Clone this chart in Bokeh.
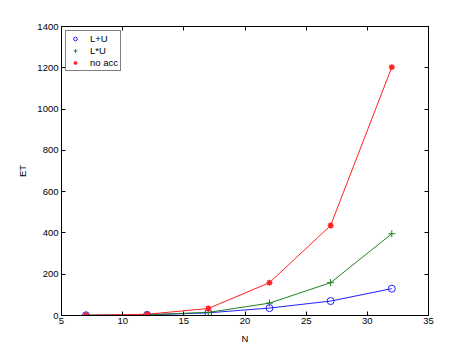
from bokeh.plotting import figure
from bokeh.models import LinearAxis, FixedTicker, Legend, LegendItem, Range1d
from bokeh.embed import file_html
from bokeh.resources import INLINE

N = [7, 12, 17, 22, 27, 32]
lu_plus = [1, 3, 13, 36, 70, 130]
lu_times = [1, 4, 15, 60, 159, 396]
no_acc = [1, 6, 34, 159, 436, 1203]
x_ticks = [5, 10, 15, 20, 25, 30, 35]
y_ticks = [0, 200, 400, 600, 800, 1000, 1200, 1400]

FONT = "Liberation Sans"

p = figure(width=474, height=355, output_backend="svg", toolbar_location=None,
           x_range=Range1d(5, 35), y_range=Range1d(0, 1400),
           min_border_left=61, min_border_top=26, min_border_right=46, min_border_bottom=40)
p.background_fill_color = "white"
p.border_fill_color = "white"
p.outline_line_color = "black"
p.outline_line_width = 1
p.xgrid.visible = False
p.ygrid.visible = False

def style_axis(ax, labels=True):
    ax.major_tick_in = 4
    ax.major_tick_out = 0
    ax.minor_tick_in = 0
    ax.minor_tick_out = 0
    ax.axis_line_color = "black"
    ax.major_tick_line_color = "black"
    ax.major_label_text_font = FONT
    ax.major_label_text_font_size = "9.5px"
    ax.major_label_text_color = "black"
    ax.axis_label_text_font = FONT
    ax.axis_label_text_font_size = "9.5px"
    ax.axis_label_text_font_style = "normal"
    ax.axis_label_text_color = "black"
    ax.axis_label_standoff = 6
    if not labels:
        ax.major_label_text_font_size = "0px"
        ax.major_label_text_alpha = 0

p.xaxis.ticker = FixedTicker(ticks=x_ticks)
p.yaxis.ticker = FixedTicker(ticks=y_ticks)
p.xaxis.axis_label = "N"
p.yaxis.axis_label = "ET"
style_axis(p.xaxis[0])
style_axis(p.yaxis[0])
p.xaxis.major_label_standoff = 2
p.yaxis.major_label_standoff = 3

top = LinearAxis(ticker=FixedTicker(ticks=x_ticks))
right = LinearAxis(ticker=FixedTicker(ticks=y_ticks))
style_axis(top, labels=False)
style_axis(right, labels=False)
p.add_layout(top, "above")
p.add_layout(right, "right")

blue = "#2020ff"
green = "#208020"
red = "#ff2020"

p.line(N, lu_plus, line_color=blue, line_width=1)
p.line(N, lu_times, line_color=green, line_width=1)
p.line(N, no_acc, line_color=red, line_width=1)

r1 = p.scatter(N, lu_plus, marker="circle", size=7, fill_color=None, line_color=blue, line_width=1)
r2 = p.scatter(N, lu_times, marker="cross", size=7, line_color=green, line_width=1)
r3 = p.scatter(N, no_acc, marker="asterisk", size=6, line_color=red, line_width=1.5)

legend = Legend(items=[LegendItem(label="L+U", renderers=[r1]),
                       LegendItem(label="L*U", renderers=[r2]),
                       LegendItem(label="no acc", renderers=[r3])],
                location="top_left")
legend.border_line_color = "black"
legend.border_line_width = 1
legend.label_text_font = FONT
legend.label_text_font_size = "9.5px"
legend.label_text_color = "black"
legend.label_height = 9
legend.glyph_height = 9
legend.glyph_width = 14
legend.spacing = 1
legend.padding = 2
legend.margin = 4
legend.label_standoff = 8
legend.background_fill_color = "white"
p.add_layout(legend)

open("out.html", "w").write(file_html(p, INLINE))
